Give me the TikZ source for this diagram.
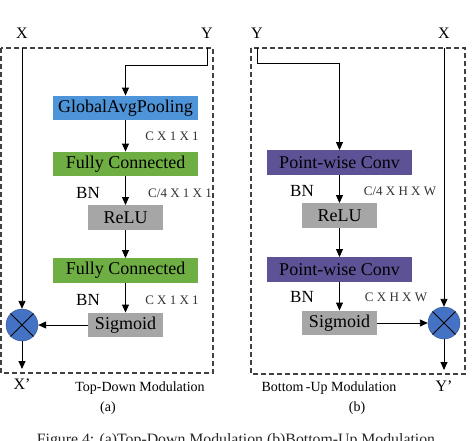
\documentclass[tikz,border=0pt]{standalone}
\usepackage{fontspec}
\setmainfont{Liberation Serif}
\usetikzlibrary{arrows.meta}
\definecolor{gapblue}{RGB}{78,148,216}
\definecolor{fcgreen}{RGB}{110,174,66}
\definecolor{boxgray}{RGB}{166,166,166}
\definecolor{pwpurple}{RGB}{94,82,150}
\definecolor{mulblue}{RGB}{68,114,196}
\tikzset{
  block/.style={inner sep=0pt, minimum height=24.5pt, font=\fontsize{18}{18}\selectfont, text=black},
  wide/.style={block, minimum width=145pt},
  narrow/.style={block, minimum width=75pt, fill=boxgray},
  lab/.style={inner sep=0pt, font=\fontsize{16}{16}\selectfont},
  dim/.style={inner sep=0pt, font=\fontsize{13}{13}\selectfont, text=black!80},
  bn/.style={inner sep=0pt, font=\fontsize{17}{17}\selectfont},
  captext/.style={inner sep=0pt, font=\fontsize{14}{14}\selectfont},
  frame/.style={draw=black!75, dashed, dash pattern=on 5pt off 3pt, line width=1.1pt},
  arr/.style={draw=black, line width=0.9pt, -{Triangle[length=8pt,width=7pt]}},
  mul/.style={circle, fill=mulblue, draw=mulblue!70!black, minimum size=32pt, inner sep=0pt},
}
\begin{document}
\begin{tikzpicture}[x=1pt,y=-1pt]
\useasboundingbox (0,0) rectangle (474,440);
% frames
\draw[frame] (1,48) rectangle (213,373);
\draw[frame] (251,48) rectangle (465,374);
% ---------- left panel ----------
\node[lab] (xa) at (22,33) {X};
\node[lab] (ya) at (207,33) {Y};
\coordinate (xatop) at (22,48);
\coordinate (yatop) at (207,48);
\node[wide, fill=gapblue] (gap) at (125.5,108) {GlobalAvgPooling};
\node[wide, fill=fcgreen] (fc1) at (125.5,164) {Fully Connected};
\node[narrow] (relu1) at (125.5,217.5) {ReLU};
\node[wide, fill=fcgreen] (fc2) at (125.5,270.5) {Fully Connected};
\node[narrow] (sig1) at (125.5,325) {Sigmoid};
\node[mul] (m1) at (22,325) {};
\draw[line width=0.9pt] (m1.45) -- (m1.225) (m1.135) -- (m1.315);
\coordinate (xaout) at (22,369);
\node[lab] (xpa) at (22,384) {X’};
\node[dim] (d1) at (172,136) {C X 1 X 1};
\node[bn] (bn1) at (88,193) {BN};
\node[dim] (d2) at (180,193) {C/4 X 1 X 1};
\node[bn] (bn2) at (88,300) {BN};
\node[dim] (d3) at (172,300) {C X 1 X 1};
\node[captext] (ta) at (140,388) {Top-Down Modulation};
\node[captext] (la) at (108,408) {(a)};
\draw[arr] (yatop) -- (207,65) -| (gap.north);
\draw[arr] (gap) -- (fc1);
\draw[arr] (fc1) -- (relu1);
\draw[arr] (relu1) -- (fc2);
\draw[arr] (fc2) -- (sig1);
\draw[arr] (sig1) -- (m1);
\draw[arr] (xatop) -- (m1);
\draw[arr] (m1) -- (xaout);
% ---------- right panel ----------
\node[lab] (yb) at (257,33) {Y};
\node[lab] (xb) at (444,33) {X};
\coordinate (ybtop) at (257,48);
\coordinate (xbtop) at (444,48);
\node[wide, fill=pwpurple] (pw1) at (339.5,162.5) {Point-wise Conv};
\node[narrow] (relu2) at (339.5,215.5) {ReLU};
\node[wide, fill=pwpurple] (pw2) at (339.5,269.5) {Point-wise Conv};
\node[narrow] (sig2) at (339.5,323) {Sigmoid};
\node[mul] (m2) at (444,323) {};
\draw[line width=0.9pt] (m2.45) -- (m2.225) (m2.135) -- (m2.315);
\coordinate (xbout) at (444,370);
\node[lab] (ypb) at (444,386) {Y’};
\node[bn] (bn3) at (302,191) {BN};
\node[dim] (d4) at (400,191) {C/4 X H X W};
\node[bn] (bn4) at (302,297) {BN};
\node[dim] (d5) at (396,297) {C X H X W};
\node[captext] (tb) at (329,388) {Bottom\,-Up Modulation};
\node[captext] (lb) at (357,408) {(b)};
\draw[arr] (ybtop) -- (257,63) -| (pw1.north);
\draw[arr] (pw1) -- (relu2);
\draw[arr] (relu2) -- (pw2);
\draw[arr] (pw2) -- (sig2);
\draw[arr] (sig2) -- (m2);
\draw[arr] (xbtop) -- (m2);
\draw[arr] (m2) -- (xbout);
% caption (cut at the bottom edge)
\node[inner sep=0pt, anchor=base, font=\fontsize{15.8}{16}\selectfont, text=black!85] (capt) at (236,444) {Figure 4: (a)Top-Down Modulation (b)Bottom-Up Modulation};
\end{tikzpicture}
\end{document}
